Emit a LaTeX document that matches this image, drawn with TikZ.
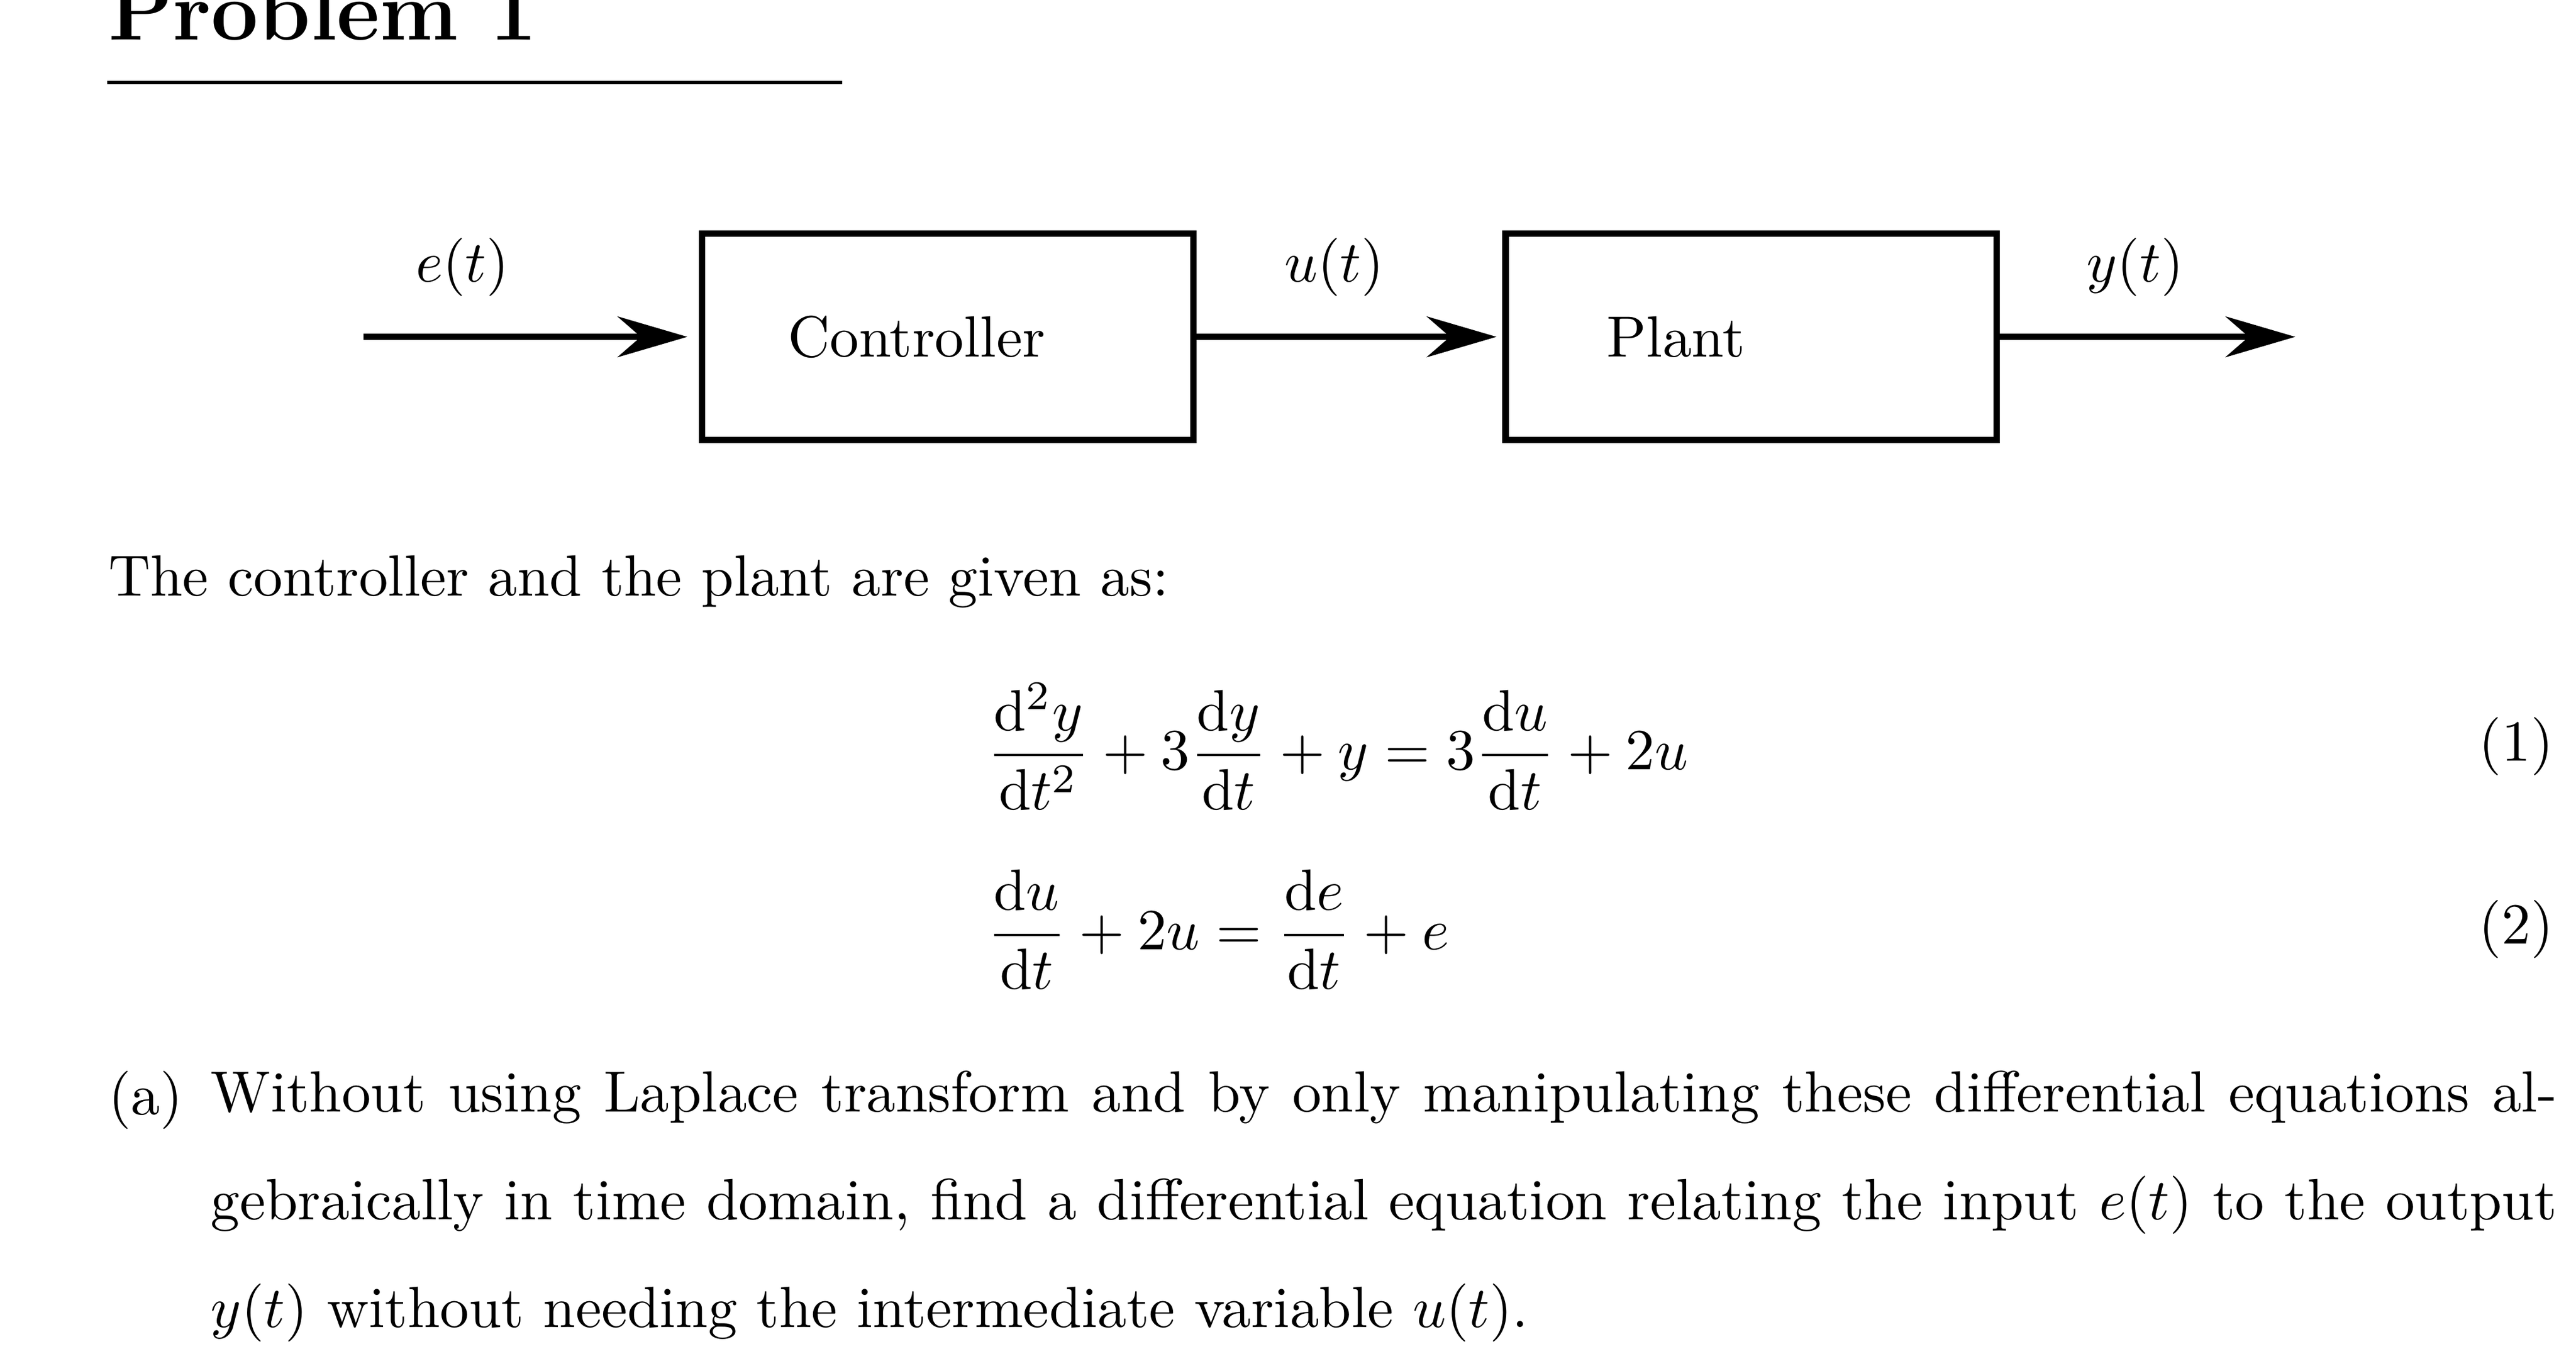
\documentclass[tikz,border=0pt]{standalone}
\usepackage{amsmath}
\usetikzlibrary{arrows.meta}
\begin{document}
\begin{tikzpicture}[x=0.284pt,y=-0.284pt,
  blk/.style={draw,line width=1.1pt,minimum width=84.5pt,minimum height=35.5pt,inner sep=0pt},
  sig/.style={line width=1.1pt,-{Stealth[length=12pt,width=7pt,inset=4pt]}},
  lab/.style={inner sep=0pt}]
\useasboundingbox (0,0) rectangle (1560,820);
\node[anchor=base west,lab,font=\Large\bfseries] (title) at (65,24) {Problem 1};
\coordinate (r1) at (65,50); \coordinate (r2) at (510,50);
\draw[line width=0.6pt] (r1) -- (r2);
\node[blk] (ctrl) at (574,204) {};
\node[lab] (ctxt) at (555,204) {Controller};
\node[blk] (plant) at (1060.5,204) {};
\node[lab] (ptxt) at (1015,204) {Plant};
\coordinate (in) at (220,204);
\coordinate (out) at (1390,204);
\draw[sig] (in) -- ([xshift=-2pt]ctrl.west);
\draw[sig] (ctrl.east) -- ([xshift=-1pt]plant.west);
\draw[sig] (plant.east) -- (out);
\node[lab] (le) at (280,162) {$e(t)$};
\node[lab] (lu) at (808,162) {$u(t)$};
\node[lab] (ly) at (1293,162) {$y(t)$};
\node[anchor=base west,lab] (intro) at (65,361) {The controller and the plant are given as:};
\node[anchor=west,lab] (eq1) at (597,452) {$\displaystyle \frac{\mathrm{d}^2y}{\mathrm{d}t^2}+3\frac{\mathrm{d}y}{\mathrm{d}t}+y=3\frac{\mathrm{d}u}{\mathrm{d}t}+2u$};
\node[anchor=east,lab] (n1) at (1547,452) {(1)};
\node[anchor=west,lab] (eq2) at (597,563) {$\displaystyle \frac{\mathrm{d}u}{\mathrm{d}t}+2u=\frac{\mathrm{d}e}{\mathrm{d}t}+e$};
\node[anchor=east,lab] (n2) at (1547,563) {(2)};
\node[anchor=base west,lab] (ia) at (65,675) {(a)};
\node[anchor=north west,lab,text width=403.5pt,align=justify] (itxt) at (127,648) {\baselineskip=18.5pt Without using Laplace transform and by only manipulating these differential equations al-\linebreak gebraically in time domain, find a differential equation relating the input $e(t)$ to the output\linebreak $y(t)$ without needing the intermediate variable $u(t)$.\par};
\end{tikzpicture}
\end{document}
